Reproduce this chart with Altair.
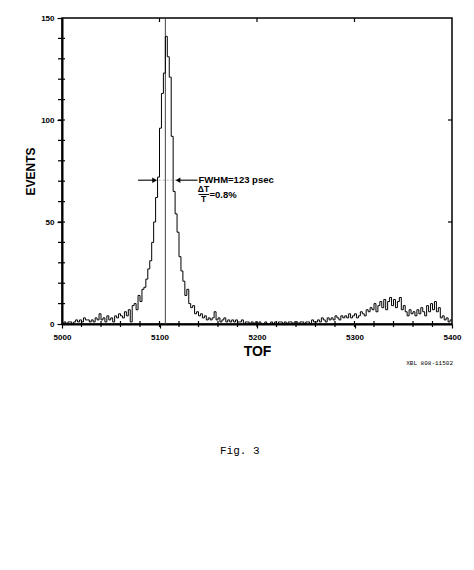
import altair as alt
import pandas as pd
import numpy as np

# ---- data (2-unit TOF bins) ----
tof_start = 5000
bin_width = 2
counts_5000_5100 = [0, 1, 0, 1, 1, 0, 1, 2, 1, 2,
                    1, 3, 2, 2, 1, 2, 1, 3, 2, 5,
                    2, 3, 1, 4, 2, 3, 1, 4, 3, 5,
                    4, 3, 6, 4, 7, 1, 9, 10, 7, 14,
                    11, 17, 18, 22, 27, 31, 40, 50, 62, 72]
counts_5100_5200 = [96, 113, 123, 141, 131, 121, 92, 65, 54, 45,
                    33, 26, 21, 14, 17, 10, 8, 9, 5, 6,
                    4, 5, 3, 4, 2, 3, 2, 3, 6, 2,
                    3, 1, 2, 3, 1, 2, 1, 2, 1, 2,
                    1, 1, 2, 0, 1, 1, 0, 1, 0, 1]
counts_5200_5300 = [0, 1, 0, 0, 1, 0, 0, 1, 0, 1,
                    0, 1, 1, 0, 1, 0, 1, 1, 0, 1,
                    1, 0, 1, 1, 0, 1, 1, 0, 2, 1,
                    1, 2, 1, 3, 2, 1, 3, 2, 3, 2,
                    4, 3, 2, 4, 3, 4, 3, 5, 3, 4]
counts_5300_5400 = [5, 3, 4, 6, 5, 4, 7, 6, 8, 7,
                    10, 6, 9, 11, 8, 12, 7, 11, 13, 9,
                    12, 8, 11, 13, 7, 9, 6, 4, 7, 5,
                    6, 4, 7, 5, 8, 6, 4, 9, 6, 10,
                    7, 11, 6, 8, 3, 4, 2, 3, 1, 2]

x_ticks_major = [5000, 5100, 5200, 5300, 5400]
y_ticks_major = [0, 50, 100, 150]
x_ticks_minor = [5020, 5040, 5060, 5080, 5120, 5140, 5160, 5180, 5220, 5240, 5260, 5280,
                 5320, 5340, 5360, 5380]
y_ticks_minor = [10, 20, 30, 40, 60, 70, 80, 90, 110, 120, 130, 140]
peak_marker_tof = 5106
fwhm_left = [5078, 5095]
fwhm_right = [5119, 5139]
half_max = 70.5

counts = counts_5000_5100 + counts_5100_5200 + counts_5200_5300 + counts_5300_5400
tof = [tof_start + bin_width * i for i in range(len(counts))]
hist = pd.DataFrame({"tof": tof + [tof[-1] + bin_width], "events": counts + [counts[-1]]})

FONT = "Liberation Sans"
W, H = 390, 306
xs = alt.Scale(domain=[5000, 5400], nice=False, zero=False)
ys = alt.Scale(domain=[0, 150], nice=False)

line = alt.Chart(hist).mark_line(interpolate="step-after", color="black", strokeWidth=1).encode(
    x=alt.X("tof:Q", scale=xs, axis=alt.Axis(
        values=x_ticks_major, format="d", labelOverlap=False,
        title="TOF", titleFontSize=14, titleFontWeight="bold", titleFont=FONT,
        titleY=27, titleBaseline="middle", titleColor="black",
        labelFont=FONT, labelFontSize=8, labelFontWeight="bold", labelColor="black",
        tickSize=4, tickColor="black", tickWidth=1.2, labelPadding=5,
        domainColor="black", domainWidth=2, grid=False, labelFlush=False)),
    y=alt.Y("events:Q", scale=ys, axis=alt.Axis(
        values=y_ticks_major, labelOverlap=False,
        title="EVENTS", titleFontSize=12, titleFontWeight="bold", titleFont=FONT,
        titleX=-32, titleY=153, titleAngle=-90, titleAlign="center", titleBaseline="middle",
        titleColor="black",
        labelFont=FONT, labelFontSize=8, labelFontWeight="bold", labelColor="black",
        tickSize=5, tickColor="black", tickWidth=1.2, labelPadding=3,
        domainColor="black", domainWidth=2, grid=False)),
)

vline = alt.Chart(pd.DataFrame({"tof": [peak_marker_tof]})).mark_rule(
    color="#444", strokeWidth=1).encode(x=alt.X("tof:Q", scale=xs))

# minor ticks (crossing the axes) and inward frame ticks
bt = alt.Chart(pd.DataFrame({"t": x_ticks_minor + x_ticks_major[1:-1]})).mark_rule(
    color="black", strokeWidth=1.2).encode(
    x=alt.X("t:Q", scale=xs), y=alt.value(H + 3), y2=alt.value(H - 3))
lt = alt.Chart(pd.DataFrame({"v": y_ticks_minor + y_ticks_major[1:-1]})).mark_rule(
    color="black", strokeWidth=1.2).encode(
    y=alt.Y("v:Q", scale=ys), x=alt.value(-4), x2=alt.value(3))
tt = alt.Chart(pd.DataFrame({"t": x_ticks_major[1:-1]})).mark_rule(color="black", strokeWidth=1.2).encode(
    x=alt.X("t:Q", scale=xs), y=alt.value(0), y2=alt.value(4))
rt = alt.Chart(pd.DataFrame({"v": y_ticks_major[1:-1]})).mark_rule(color="black", strokeWidth=1.2).encode(
    y=alt.Y("v:Q", scale=ys), x=alt.value(W), x2=alt.value(W - 4))

# FWHM arrows
arr_df = pd.DataFrame({"x1": [fwhm_left[0], fwhm_right[0]], "x2": [fwhm_left[1], fwhm_right[1]],
                       "y": [half_max, half_max]})
arr_lines = alt.Chart(arr_df).mark_rule(color="black", strokeWidth=1.1).encode(
    x=alt.X("x1:Q", scale=xs), x2="x2:Q", y=alt.Y("y:Q", scale=ys))
dots = alt.Chart(pd.DataFrame({"x1": [fwhm_left[1]], "x2": [fwhm_right[0]], "y": [half_max]})).mark_rule(
    color="#999", strokeWidth=0.8, strokeDash=[2, 2]).encode(
    x=alt.X("x1:Q", scale=xs), x2="x2:Q", y=alt.Y("y:Q", scale=ys))
head_r = alt.Chart(pd.DataFrame({"x": [fwhm_left[1]], "y": [half_max]})).mark_point(
    shape="triangle-right", filled=True, color="black", size=30, opacity=1).encode(
    x=alt.X("x:Q", scale=xs), y=alt.Y("y:Q", scale=ys))
head_l = alt.Chart(pd.DataFrame({"x": [fwhm_right[0]], "y": [half_max]})).mark_point(
    shape="triangle-left", filled=True, color="black", size=30, opacity=1).encode(
    x=alt.X("x:Q", scale=xs), y=alt.Y("y:Q", scale=ys))

anchor = pd.DataFrame({"x": [5140], "y": [half_max]})
def label(text, dx, dy, size, align="left"):
    return alt.Chart(anchor).mark_text(text=text, font=FONT, fontSize=size, fontWeight="bold",
                                       color="black", align=align, baseline="middle",
                                       dx=dx, dy=dy).encode(
        x=alt.X("x:Q", scale=xs), y=alt.Y("y:Q", scale=ys))

fwhm_txt = label("FWHM=123 psec", 0, 0, 9.5)
dt_txt = label("ΔT", 5, 9, 8.5, "center")
t_txt = label("T", 5, 18.5, 8.5, "center")
pct_txt = label("=0.8%", 11, 14.5, 9.5)
frac = alt.Chart(pd.DataFrame({"x1": [5140], "x2": [5151], "y": [63.5]})).mark_rule(
    color="black", strokeWidth=1).encode(x=alt.X("x1:Q", scale=xs), x2="x2:Q", y=alt.Y("y:Q", scale=ys))

xbl = alt.Chart(anchor).mark_text(text="XBL 808-11502", font="Liberation Mono", fontSize=6,
                                  color="black", align="right", baseline="middle").encode(
    x=alt.value(W + 1), y=alt.value(345))
fig = alt.Chart(anchor).mark_text(text="Fig. 3", font="Liberation Mono", fontSize=11,
                                  color="black", align="left", baseline="middle").encode(
    x=alt.value(158), y=alt.value(433))

chart = alt.layer(
    vline, line, bt, lt, tt, rt, dots, arr_lines, head_r, head_l,
    fwhm_txt, dt_txt, t_txt, pct_txt, frac, xbl, fig
).properties(
    width=W, height=H,
    autosize=alt.AutoSizeParams(type="none"),
    padding={"left": 54, "top": 10, "right": 14, "bottom": 238},
    background="white",
).configure_view(stroke="black", strokeWidth=1.5)

chart.save("out.html", embed_options={"renderer": "svg", "actions": False})
